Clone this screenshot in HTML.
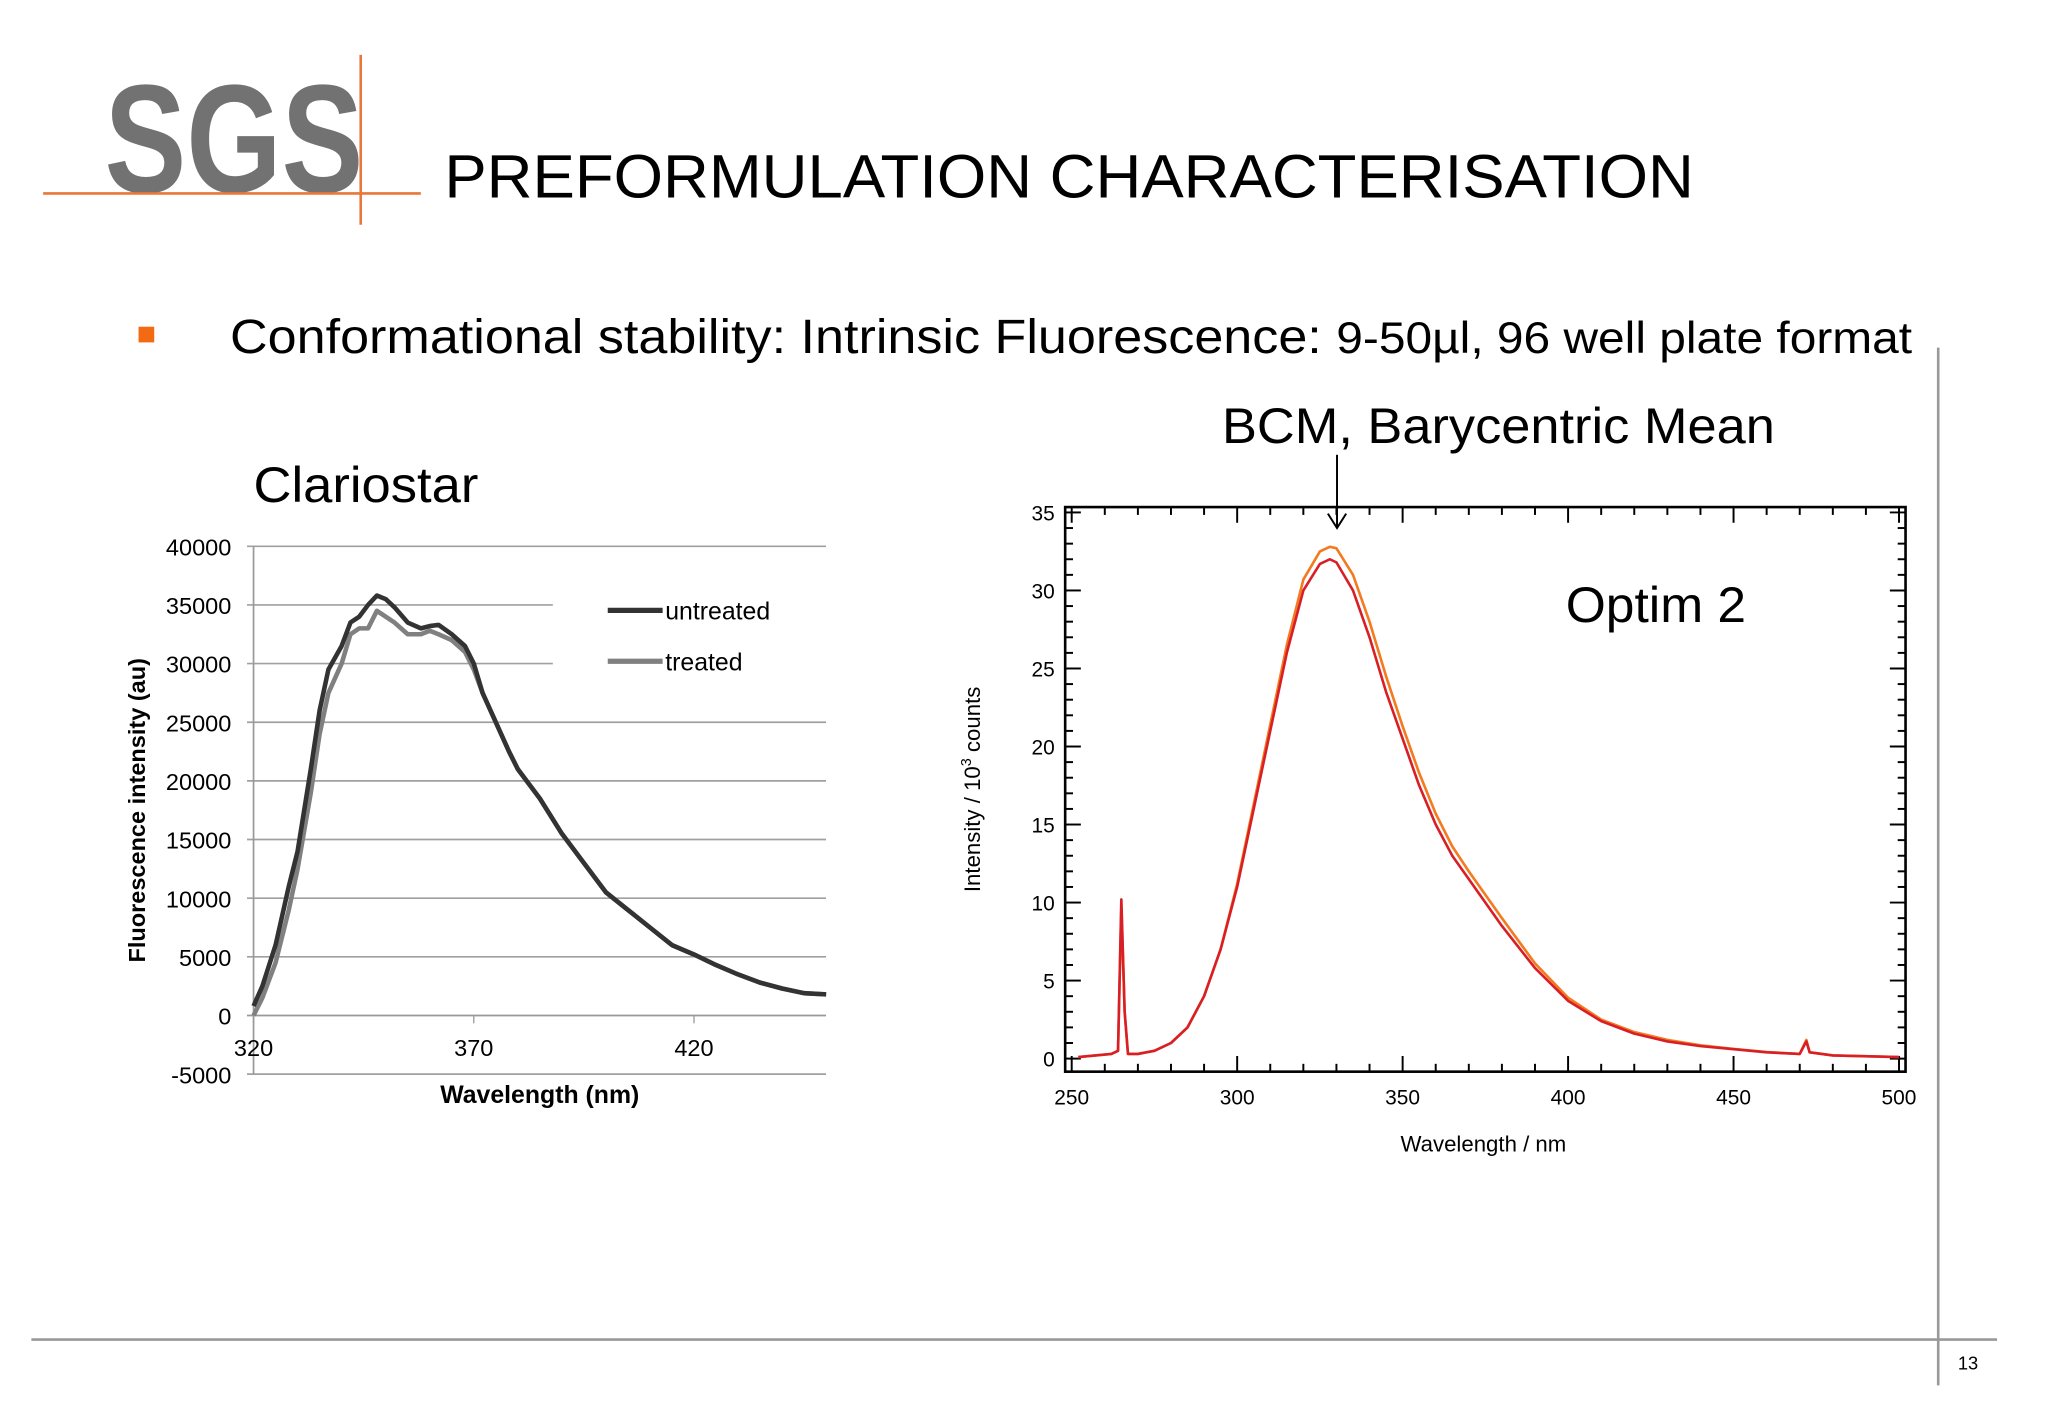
<!DOCTYPE html>
<html><head><meta charset="utf-8"><style>
html,body{margin:0;padding:0;background:#fff}
svg{display:block;font-family:"Liberation Sans",sans-serif}
</style></head><body>
<svg id="s" width="2048" height="1418" viewBox="0 0 1567 1085" preserveAspectRatio="none" xmlns="http://www.w3.org/2000/svg">
<g>
<text x="80" y="147" font-size="118" font-weight="bold" fill="#727272" textLength="198" lengthAdjust="spacingAndGlyphs" style="font-family:'Liberation Sans Narrow','Liberation Sans',sans-serif">SGS</text>
<line x1="33" y1="148" x2="322" y2="148" stroke="#e8773a" stroke-width="2"/>
<line x1="276" y1="42" x2="276" y2="172" stroke="#e8773a" stroke-width="2"/>
</g>
<text x="340" y="151" font-size="47" fill="#000" textLength="956" lengthAdjust="spacingAndGlyphs">PREFORMULATION CHARACTERISATION</text>
<rect x="106" y="250" width="12" height="12" fill="#f26b12"/>
<text x="176" y="270" font-size="37" fill="#000" textLength="1287" lengthAdjust="spacingAndGlyphs">Conformational stability: Intrinsic Fluorescence: <tspan font-size="34">9-50µl, 96 well plate format</tspan></text>
<line x1="1483" y1="266" x2="1483" y2="1060" stroke="#999" stroke-width="2"/>
<line x1="24" y1="1025" x2="1528" y2="1025" stroke="#999" stroke-width="2"/>
<text x="1498" y="1048" font-size="14">13</text>
<text x="194" y="384" font-size="38" textLength="172" lengthAdjust="spacingAndGlyphs">Clariostar</text>
<text x="935" y="339" font-size="38" textLength="423" lengthAdjust="spacingAndGlyphs">BCM, Barycentric Mean</text>
<g id="left"></g>
<g id="right"></g>
</svg>
<script>
const NS="http://www.w3.org/2000/svg";
function mk(p,t,a){const e=document.createElementNS(NS,t);for(const k in a)e.setAttribute(k,a[k]);p.appendChild(e);return e;}
// Left chart data
const leftX=[320,322,325,328,330,333,335,337,340,342,344,346,348,350,352,355,358,360,362,365,368,370,372,375,378,380,385,390,395,400,405,410,415,420,425,430,435,440,445,450];
const untreated=[800,2500,6000,11000,14000,21000,26000,29500,31500,33500,34000,35000,35800,35500,34800,33500,33000,33200,33300,32500,31500,30000,27500,25000,22500,21000,18500,15500,13000,10500,9000,7500,6000,5200,4300,3500,2800,2300,1900,1800];
const treated=[0,1500,4500,9000,12500,19000,24000,27500,30000,32500,33000,33000,34500,34000,33500,32500,32500,32800,32500,32000,31000,29500,27500,25000,22500,21000,18500,15500,13000,10500,9000,7500,6000,5200,4300,3500,2800,2300,1900,1800];
const leftYTicks=[-5000,0,5000,10000,15000,20000,25000,30000,35000,40000];
const leftXTicks=[320,370,420];
const L=document.getElementById('left');
const lx=v=>194+(v-320)*3.37, ly=v=>777-v*0.008975;
leftYTicks.forEach(t=>{
 const g=mk(L,'line',{x1:189,x2:632,y1:ly(t),y2:ly(t),stroke:t==0?'#999':'#a0a0a0','stroke-width':1.3});
 
 
 const tx=mk(L,'text',{x:177,y:ly(t)+7,'font-size':18,'text-anchor':'end'});tx.textContent=t;
 
 
});
mk(L,'rect',{x:423,y:450,width:215,height:70,fill:'#fff'});
mk(L,'line',{x1:194,x2:194,y1:418,y2:822,stroke:'#999','stroke-width':1.3});
leftXTicks.forEach(t=>{
 mk(L,'line',{x1:lx(t),x2:lx(t),y1:777,y2:783,stroke:'#999'});
 const tx=mk(L,'text',{x:lx(t),y:808,'font-size':18,'text-anchor':'middle'});tx.textContent=t;
 
 
});
function series(p,xs,ys,fx,fy,col,w,name){
 const e=mk(p,'polyline',{points:xs.map((x,i)=>fx(x)+','+fy(ys[i])).join(' '),fill:'none',stroke:col,'stroke-width':w,'stroke-linejoin':'round'});
 
 
}
series(L,leftX,treated,lx,ly,'#808080',3.5,'treated-line');
series(L,leftX,untreated,lx,ly,'#333',3.5,'untreated-line');
mk(L,'line',{x1:465,x2:507,y1:467,y2:467,stroke:'#333','stroke-width':4});
let t1=mk(L,'text',{x:509,y:474,'font-size':19});t1.textContent='untreated';


mk(L,'line',{x1:465,x2:507,y1:506,y2:506,stroke:'#808080','stroke-width':4});
let t2=mk(L,'text',{x:509,y:513,'font-size':19});t2.textContent='treated';


let xt=mk(L,'text',{x:413,y:844,'font-size':19,'font-weight':'bold','text-anchor':'middle'});xt.textContent='Wavelength (nm)';


let yt=mk(L,'text',{x:0,y:0,'font-size':18,'font-weight':'bold','text-anchor':'middle',transform:'translate(111,620) rotate(-90)'});yt.textContent='Fluorescence intensity (au)';



// Right chart data
const rightX=[252,262,264,265,266,267,270,275,280,285,290,295,300,305,310,315,320,325,328,330,335,340,345,350,355,360,365,370,380,390,400,410,420,430,440,450,460,470,472,473,480,500];
const redY=[0.1,0.3,0.5,10.2,3,0.3,0.3,0.5,1,2,4,7,11,16,21,26,30,31.7,32,31.8,30,27,23.5,20.5,17.5,15,13,11.5,8.5,5.8,3.7,2.4,1.6,1.1,0.8,0.6,0.4,0.3,1.1,0.4,0.2,0.1];
const orangeY=[0.1,0.3,0.5,9.8,3,0.3,0.3,0.5,1,2,4,7,11.2,16.3,21.4,26.5,30.7,32.5,32.8,32.7,31,28,24.5,21.3,18.3,15.7,13.6,12,9,6.1,3.9,2.5,1.7,1.2,0.85,0.62,0.42,0.3,1.2,0.4,0.2,0.1];
const rightXTicks=[250,300,350,400,450,500];
const rightYTicks=[0,5,10,15,20,25,30,35];
const R=document.getElementById('right');
const rx=v=>820+(v-250)*2.532, ry=v=>810-v*11.94;
mk(R,'rect',{x:815,y:388,width:643,height:432,fill:'none',stroke:'#000','stroke-width':2});
for(let v=250;v<=500;v+=10){const big=v%50==0;
 mk(R,'line',{x1:rx(v),x2:rx(v),y1:820,y2:820-(big?12:6),stroke:'#000','stroke-width':1.5});
 mk(R,'line',{x1:rx(v),x2:rx(v),y1:388,y2:388+(big?12:6),stroke:'#000','stroke-width':1.5});}
for(let v=0;v<=35;v++){const big=v%5==0;
 mk(R,'line',{x1:815,x2:815+(big?12:6),y1:ry(v),y2:ry(v),stroke:'#000','stroke-width':1.5});
 mk(R,'line',{x1:1458,x2:1458-(big?12:6),y1:ry(v),y2:ry(v),stroke:'#000','stroke-width':1.5});}
rightXTicks.forEach(t=>{const tx=mk(R,'text',{x:rx(t),y:845,'font-size':16,'text-anchor':'middle'});tx.textContent=t;
 
 });
rightYTicks.forEach(t=>{const tx=mk(R,'text',{x:807,y:ry(t)+6,'font-size':16,'text-anchor':'end'});tx.textContent=t;
 
 });
series(R,rightX,orangeY,rx,ry,'#f47a20',2,'orange-series');
series(R,rightX,redY,rx,ry,'#d81f26',2,'red-series');
let ot=mk(R,'text',{x:1198,y:476,'font-size':38,textLength:138,lengthAdjust:'spacingAndGlyphs'});ot.textContent='Optim 2';


let rxt=mk(R,'text',{x:1135,y:881,'font-size':17,'text-anchor':'middle'});rxt.textContent='Wavelength /  nm';


let ryt=mk(R,'text',{x:0,y:0,'font-size':17,'text-anchor':'middle',transform:'translate(750,604) rotate(-90)'});
ryt.innerHTML='Intensity / 10<tspan dy="-7" font-size="11">3</tspan><tspan dy="7"> counts</tspan>';


mk(R,'line',{x1:1023,x2:1023,y1:348,y2:403,stroke:'#000','stroke-width':1.5});
mk(R,'polyline',{points:'1016,393 1023,404 1030,393',fill:'none',stroke:'#000','stroke-width':1.5});
</script>
</body></html>
